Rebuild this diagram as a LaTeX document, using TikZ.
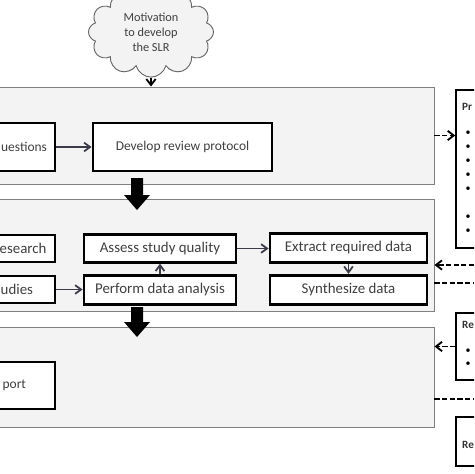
\documentclass[tikz,border=0pt]{standalone}
\usepackage{fontspec}
\setmainfont{Carlito}
\usetikzlibrary{arrows.meta, shapes.symbols, shadows}
\definecolor{ctext}{HTML}{404040}
\definecolor{cpanel}{HTML}{F3F3F3}
\definecolor{cedge}{HTML}{808080}
\definecolor{cline}{HTML}{3A3A48}
\tikzset{
  panel/.style={draw=cedge, fill=cpanel, line width=0.8pt, minimum width=13.62cm, inner sep=0pt},
  box/.style={draw=black, fill=white, line width=2.4pt, text=ctext, inner sep=0pt,
    drop shadow={shadow xshift=1pt, shadow yshift=-1pt, fill=black!50},
    font=\fontsize{12.7}{15}\selectfont},
  cut/.style={box, minimum width=3.45cm, text width=#1, align=right},
  side/.style={draw=black, fill=white, line width=1.3pt, minimum width=3.12cm, inner sep=0pt},
  flow/.style={-{Straight Barb[length=1.8mm, width=2.6mm]}, draw=cline, line width=1.5pt},
  dasharrow/.style={-{Straight Barb[length=1.8mm, width=2.8mm]}, draw=black, line width=1.6pt, dash pattern=on 4.5pt off 2pt},
  dashline/.style={draw=black, line width=1.6pt, dash pattern=on 4.5pt off 2pt},
  tag/.style={font=\fontsize{9.5}{11}\selectfont\bfseries, text=black!80, anchor=west, inner sep=0pt},
  dot/.style={font=\fontsize{8.5}{9}\selectfont, inner sep=0pt},
  big/.style={font=\fontsize{11.5}{14}\selectfont},
}

\begin{document}
\begin{tikzpicture}[x=0.03cm, y=-0.03cm]
  \useasboundingbox (0,0) rectangle (474,474);
  \fill[white] (0,0) rectangle (474,474);
  \clip (0,0) rectangle (474,474);
  % phases
  \node[panel, minimum height=2.91cm] (plan) at (207,135.5) {};
  \node[panel, minimum height=3.36cm] (conduct) at (207,255) {};
  \node[panel, minimum height=3.0cm] (report) at (207,377) {};
  % motivation cloud
  \node[cloud, cloud puffs=12, draw=black!60, fill=cpanel, line width=0.8pt, minimum width=3.75cm,
    minimum height=2.2cm, align=center, text=ctext, inner sep=0pt,
    font=\fontsize{10.5}{12.75}\selectfont] (motiv) at (151,32) {Motivation\\to develop\\the SLR};
  % planning
  \node[cut=2.97cm, big, minimum height=1.44cm] (quest) at (-2.5,147) {uestions};
  \node[box, big, minimum width=5.37cm, minimum height=1.44cm] (proto) at (182.5,147) {Develop review protocol};
  \draw[flow] (quest) -- (proto);
  % conducting
  \node[cut=2.94cm, minimum height=0.81cm] (ident) at (-2.5,248.5) {esearch};
  \node[cut=2.13cm, minimum height=0.81cm] (select) at (-2.5,289.5) {udies};
  \node[box, minimum width=4.56cm, minimum height=0.82cm] (assess) at (160,248.5) {Assess study quality};
  \node[box, minimum width=4.56cm, minimum height=0.86cm] (perform) at (160,290) {Perform data analysis};
  \node[box, minimum width=4.71cm, minimum height=0.86cm] (extract) at (348.5,248) {Extract required data};
  \node[box, minimum width=4.71cm, minimum height=0.88cm] (synth) at (348.5,290) {Synthesize data};
  \draw[flow] (select.east) -- (select.east -| perform.west);
  \draw[flow] (perform) -- (assess);
  \draw[flow] (assess.east) -- (assess.east -| extract.west);
  \draw[flow] (extract) -- (synth);
  % reporting
  \node[cut=1.71cm, big, minimum height=1.41cm] (write) at (-2.5,385.5) {port};
  % phase arrows
  \foreach \y/\h in {178/17, 307/15}
    \fill[black] (131,\y) -- (143,\y) -- (143,\y+\h) -- (150,\y+\h) -- (137,\y+\h+15)
      -- (124,\y+\h) -- (131,\y+\h) -- cycle;
  % side notes
  \node[side, minimum height=4.74cm] (protbox) at (508,169) {};
  \node[tag] (pr) at (462,107) {Pr};
  \foreach \i/\y in {1/133,2/147,3/161,4/175,5/189,6/217,7/231}
    \node[dot] (pb\i) at (468,\y) {\textbullet};
  \node[side, minimum height=2.01cm] (resbox) at (508,346.5) {};
  \node[tag] (re1) at (462,325) {Re};
  \foreach \i/\y in {1/351,2/364}
    \node[dot] (rb\i) at (468,\y) {\textbullet};
  \node[side, minimum height=1.47cm] (repbox) at (508,441.5) {};
  \node[tag] (re2) at (462,445) {Re};
  % dashed links
  \draw[dasharrow] (motiv.south) -- (motiv.south |- plan.north);
  \draw[dasharrow] (plan.east) -- (protbox.west |- plan.east);
  \coordinate (fromprot) at (474,265);
  \draw[dasharrow] (fromprot) -- (conduct.east |- fromprot);
  \coordinate (tosynth) at (474,283);
  \draw[dashline] (conduct.east |- tosynth) -- (tosynth);
  \draw[dasharrow] (resbox.west) -- (report.east |- resbox.west);
  \coordinate (toreport) at (474,399);
  \draw[dashline] (report.east |- toreport) -- (toreport);
\end{tikzpicture}
\end{document}
